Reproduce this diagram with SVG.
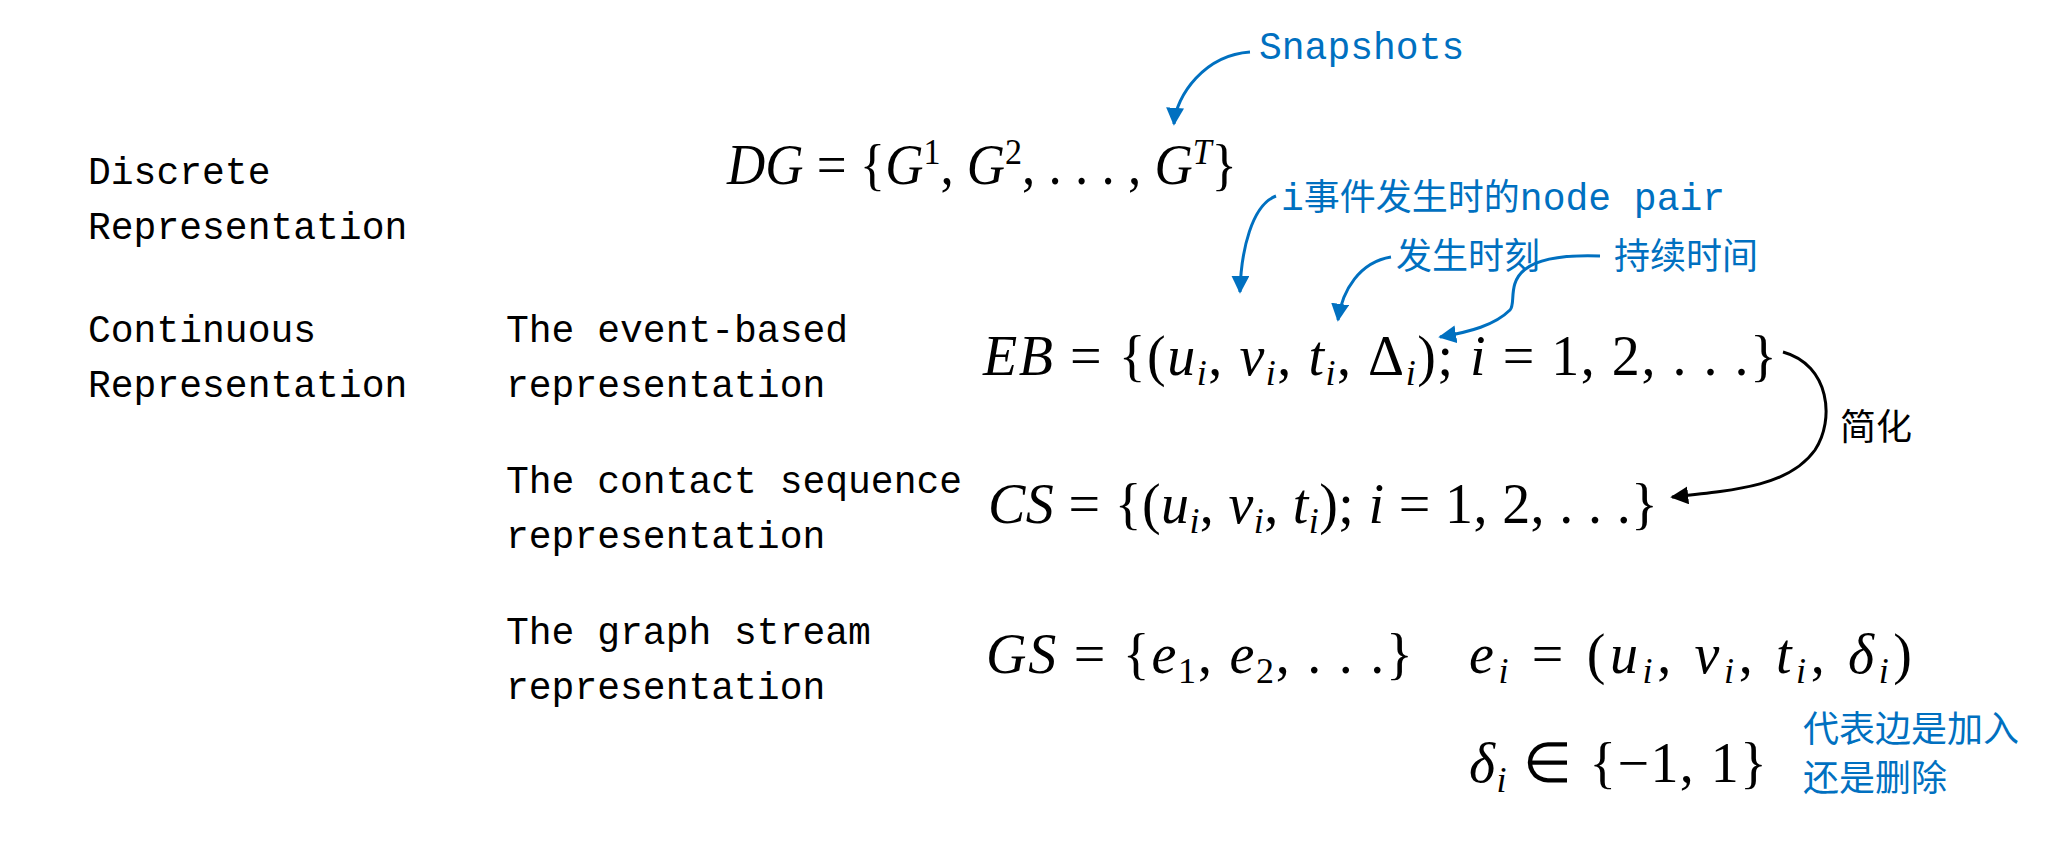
<svg xmlns="http://www.w3.org/2000/svg" width="2061" height="844" viewBox="0 0 2061 844">
<style>
.lab{font-family:"Liberation Mono","Noto Sans CJK SC",monospace;font-size:38px;fill:#000}
.blue{font-family:"Liberation Mono","Noto Sans CJK SC",monospace;font-size:38px;fill:#0070C0}
.cjk{font-family:"Noto Sans CJK SC",sans-serif;font-size:36px}
.m{font-family:"Liberation Serif",serif;font-size:56px;fill:#000}
.i{font-style:italic}
.s{font-size:36px}
.ba{fill:none;stroke:#0070C0;stroke-width:3}
.ka{fill:none;stroke:#000;stroke-width:3}
</style>
<defs>
<marker id="hb" viewBox="0 0 10 10" refX="9" refY="5" markerWidth="6" markerHeight="6" orient="auto"><path d="M0,0L10,5L0,10z" fill="#0070C0"/></marker>
<marker id="hk" viewBox="0 0 10 10" refX="9" refY="5" markerWidth="6" markerHeight="6" orient="auto"><path d="M0,0L10,5L0,10z" fill="#000"/></marker>
</defs>
<g id="labels">
<text class="lab" x="88" y="184">Discrete</text>
<text class="lab" x="88" y="239">Representation</text>
<text class="lab" x="88" y="342">Continuous</text>
<text class="lab" x="88" y="397">Representation</text>
<text class="lab" x="506" y="342">The event-based</text>
<text class="lab" x="506" y="397">representation</text>
<text class="lab" x="506" y="493">The contact sequence</text>
<text class="lab" x="506" y="548">representation</text>
<text class="lab" x="506" y="644">The graph stream</text>
<text class="lab" x="506" y="699">representation</text>
</g>
<g id="formulas">
<text class="m" x="727" y="184" font-size="50" textLength="510" lengthAdjust="spacingAndGlyphs"><tspan class="i">DG</tspan> = {<tspan class="i">G</tspan><tspan class="s" dy="-20">1</tspan><tspan dy="20">, </tspan><tspan class="i">G</tspan><tspan class="s" dy="-20">2</tspan><tspan dy="20">, . . . , </tspan><tspan class="i">G</tspan><tspan class="s i" dy="-20">T</tspan><tspan dy="20">}</tspan></text>
<text class="m" x="983" y="375" textLength="794" lengthAdjust="spacing"><tspan class="i">EB</tspan> = {(<tspan class="i">u</tspan><tspan class="s i" dy="10">i</tspan><tspan dy="-10">, </tspan><tspan class="i">v</tspan><tspan class="s i" dy="10">i</tspan><tspan dy="-10">, </tspan><tspan class="i">t</tspan><tspan class="s i" dy="10">i</tspan><tspan dy="-10">, Δ</tspan><tspan class="s i" dy="10">i</tspan><tspan dy="-10">); </tspan><tspan class="i">i</tspan> = 1, 2, . . .}</text>
<text class="m" x="988" y="523" textLength="670" lengthAdjust="spacing"><tspan class="i">CS</tspan> = {(<tspan class="i">u</tspan><tspan class="s i" dy="10">i</tspan><tspan dy="-10">, </tspan><tspan class="i">v</tspan><tspan class="s i" dy="10">i</tspan><tspan dy="-10">, </tspan><tspan class="i">t</tspan><tspan class="s i" dy="10">i</tspan><tspan dy="-10">); </tspan><tspan class="i">i</tspan> = 1, 2, . . .}</text>
<text class="m" x="986" y="673" textLength="427" lengthAdjust="spacing"><tspan class="i">GS</tspan> = {<tspan class="i">e</tspan><tspan class="s" dy="10">1</tspan><tspan dy="-10">, </tspan><tspan class="i">e</tspan><tspan class="s" dy="10">2</tspan><tspan dy="-10">, . . .}</tspan></text>
<text class="m" x="1469" y="673" textLength="443" lengthAdjust="spacing"><tspan class="i">e</tspan><tspan class="s i" dy="10">i</tspan><tspan dy="-10"> = (</tspan><tspan class="i">u</tspan><tspan class="s i" dy="10">i</tspan><tspan dy="-10">, </tspan><tspan class="i">v</tspan><tspan class="s i" dy="10">i</tspan><tspan dy="-10">, </tspan><tspan class="i">t</tspan><tspan class="s i" dy="10">i</tspan><tspan dy="-10">, </tspan><tspan class="i">δ</tspan><tspan class="s i" dy="10">i</tspan><tspan dy="-10">)</tspan></text>
<text class="m" x="1469" y="782" textLength="298" lengthAdjust="spacing"><tspan class="i">δ</tspan><tspan class="s i" dy="10">i</tspan><tspan dy="-10"> ∈ {−1, 1}</tspan></text>
</g>
<g id="annotations">
<text class="blue" x="1259" y="59">Snapshots</text>
<text class="blue" x="1281" y="210">i<tspan class="cjk">事件发生时的</tspan>node pair</text>
<text class="blue cjk" x="1396" y="269">发生时刻</text>
<text class="blue cjk" x="1614" y="269">持续时间</text>
<text class="lab cjk" x="1840" y="440">简化</text>
<text class="blue cjk" x="1803" y="742">代表边是加入</text>
<text class="blue cjk" x="1803" y="791">还是删除</text>
</g>
<g id="connectors">
<path class="ba" marker-end="url(#hb)" d="M1250,52 C1205,55 1176,95 1174,124"/>
<path class="ba" marker-end="url(#hb)" d="M1276,196 C1252,205 1241,250 1240,292"/>
<path class="ba" marker-end="url(#hb)" d="M1391,257 C1360,262 1342,290 1338,320"/>
<path class="ba" marker-end="url(#hb)" d="M1600,256 C1490,252 1520,300 1510,310 C1495,325 1470,332 1440,337"/>
<path class="ka" marker-end="url(#hk)" d="M1783,352 C1830,365 1835,420 1815,450 C1790,485 1740,490 1672,497"/>
</g>
</svg>
